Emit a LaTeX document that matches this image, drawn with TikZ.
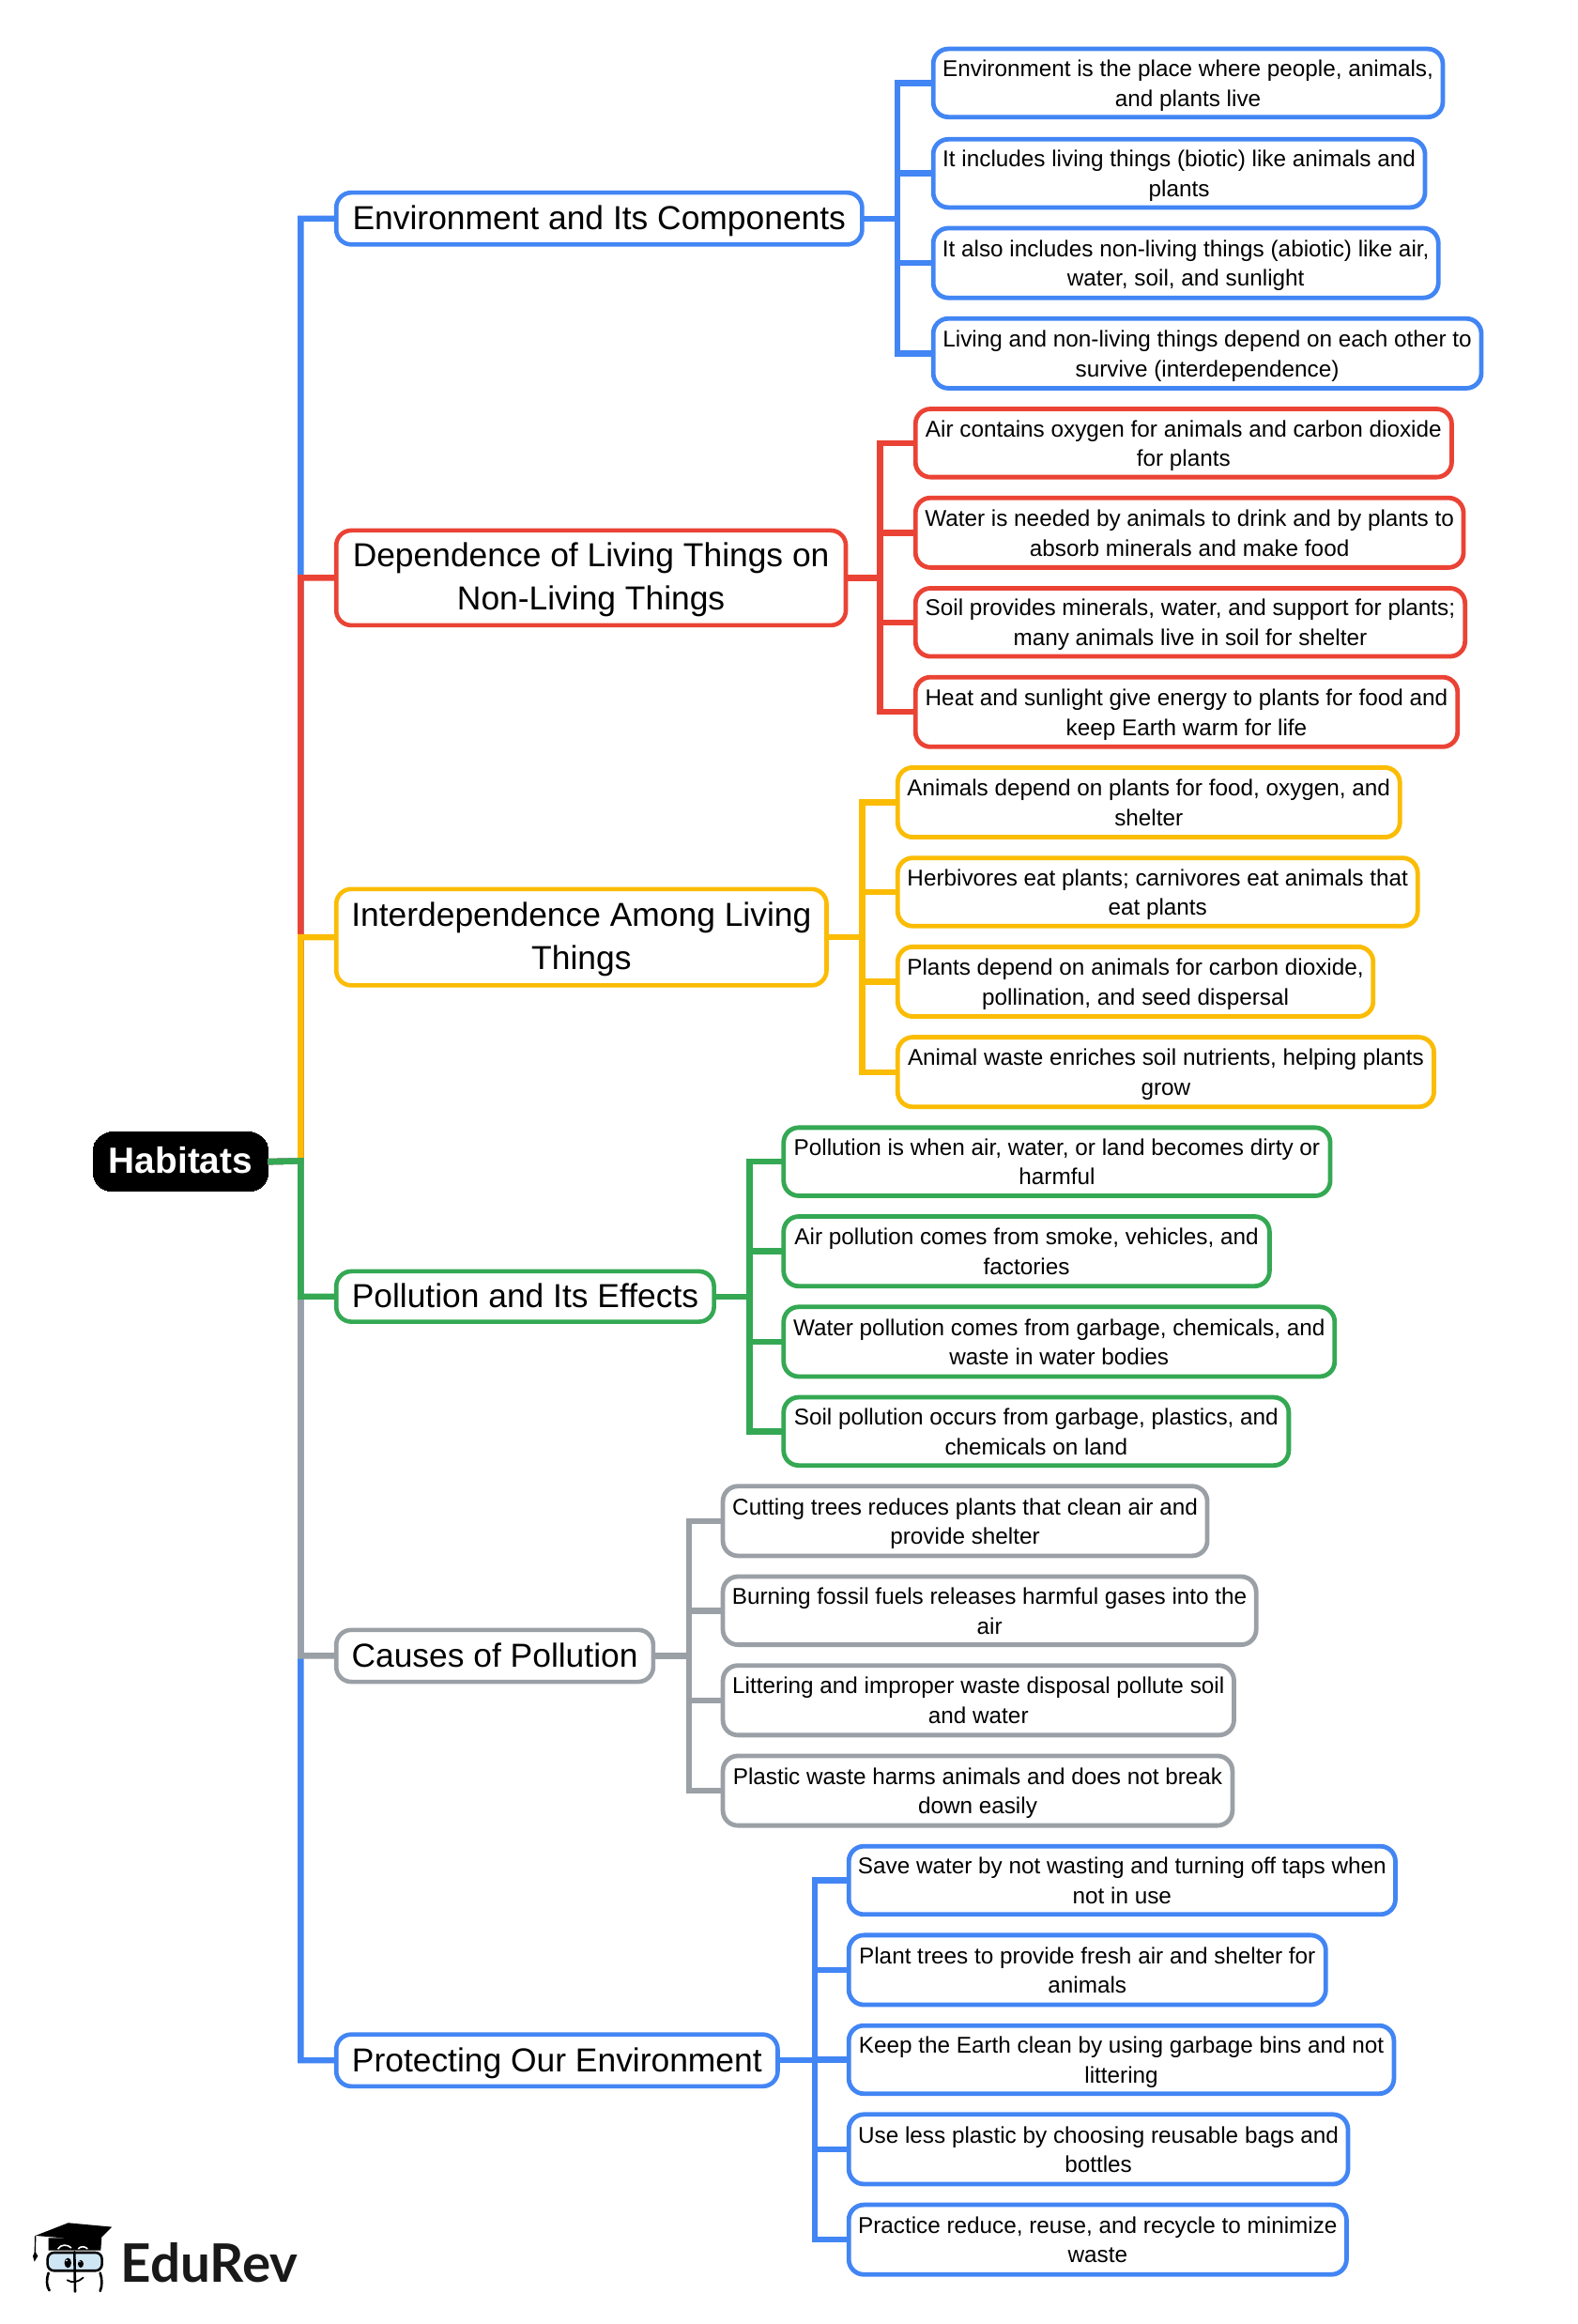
\documentclass[tikz,border=0pt]{standalone}
\usepackage{fontspec}
\setmainfont{Liberation Sans}
\newfontfamily\logofont{Lato}
\definecolor{gblue}{HTML}{4285F4}
\definecolor{gred}{HTML}{EA4335}
\definecolor{gyellow}{HTML}{FBBC04}
\definecolor{ggreen}{HTML}{34A853}
\definecolor{ggrey}{HTML}{9AA0A6}
\definecolor{glass}{HTML}{CFE6F5}
\tikzset{
  anybox/.style={rectangle,rounded corners=16pt,inner sep=0pt,outer sep=0pt,fill=white,text=black},
  leafbox/.style={anybox,line width=4.8pt,font=\fontsize{24.3}{31.6}\selectfont},
  branchbox/.style={anybox,line width=4.6pt,font=\fontsize{35.4}{46}\selectfont},
  rootbox/.style={anybox,fill=black,text=white,draw=black,line width=0pt,rounded corners=20pt,font=\fontsize{38.8}{46}\selectfont\bfseries},
  conn/.style={line width=6.4pt,line join=miter},
  logoline/.style={draw=black,line width=2.6pt,line cap=round}
}
% [text nudge], style, name, left, right, top, bottom, colour, text (coordinates in units of 1.578pt)
\newcommand\placebox[9][-2.7pt]{%
  \node[#2,draw=#8,minimum width={(#5-#4)*1.578pt},minimum height={(#7-#6)*1.578pt}]
    (#3) at ({(#4+#5)/2},{(#6+#7)/2}) {\raisebox{#1}[\height][\depth]{\begin{tabular}{@{}c@{}}#9\end{tabular}}};}
\begin{document}
\begin{tikzpicture}[x=1.578pt,y=-1.578pt]
\useasboundingbox (0,0) rectangle (1065.27,1568.44);
\fill[white] (0,0) rectangle (1065.27,1568.44);

\coordinate (rbus) at (203,783.5);
\coordinate (bus1) at (606,0);
\coordinate (bus2) at (594,0);
\coordinate (bus3) at (582,0);
\coordinate (bus4) at (506,0);
\coordinate (bus5) at (465,0);
\coordinate (bus6) at (550,0);

% root
\node[rootbox,minimum width={118*1.578pt},minimum height={40*1.578pt}] (root) at (122,784) {\raisebox{-3pt}[\height][\depth]{\begin{tabular}{@{}c@{}}Habitats\end{tabular}}};

% branches
\placebox[-3pt]{branchbox}{b1}{227}{582}{130}{165}{gblue}{Environment and Its Components}
\placebox[-1.7pt]{branchbox}{b2}{227}{571}{358}{422}{gred}{Dependence of Living Things on\\Non-Living Things}
\placebox[-1.7pt]{branchbox}{b3}{227}{558}{600}{665}{gyellow}{Interdependence Among Living\\Things}
\placebox[-3pt]{branchbox}{b4}{227}{482}{858}{892}{ggreen}{Pollution and Its Effects}
\placebox[-3pt]{branchbox}{b5}{227}{441}{1100}{1135}{ggrey}{Causes of Pollution}
\placebox[-3pt]{branchbox}{b6}{227}{525}{1373}{1408}{gblue}{Protecting Our Environment}

% leaves
\placebox{leafbox}{l11}{630}{974}{33}{79}{gblue}{Environment is the place where people, animals,\\and plants live}
\placebox{leafbox}{l12}{630}{962}{94}{140}{gblue}{It includes living things (biotic) like animals and\\plants}
\placebox{leafbox}{l13}{630}{971}{154}{201}{gblue}{It also includes non-living things (abiotic) like air,\\water, soil, and sunlight}
\placebox{leafbox}{l14}{630}{1000}{215}{262}{gblue}{Living and non-living things depend on each other to\\survive (interdependence)}

\placebox{leafbox}{l21}{618}{980}{276}{322}{gred}{Air contains oxygen for animals and carbon dioxide\\for plants}
\placebox{leafbox}{l22}{618}{988}{336}{383}{gred}{Water is needed by animals to drink and by plants to\\absorb minerals and make food}
\placebox{leafbox}{l23}{618}{989}{397}{443}{gred}{Soil provides minerals, water, and support for plants;\\many animals live in soil for shelter}
\placebox{leafbox}{l24}{618}{984}{457}{504}{gred}{Heat and sunlight give energy to plants for food and\\keep Earth warm for life}

\placebox{leafbox}{l31}{606}{945}{518}{565}{gyellow}{Animals depend on plants for food, oxygen, and\\shelter}
\placebox{leafbox}{l32}{606}{957}{579}{625}{gyellow}{Herbivores eat plants; carnivores eat animals that\\eat plants}
\placebox{leafbox}{l33}{606}{927}{639}{686}{gyellow}{Plants depend on animals for carbon dioxide,\\pollination, and seed dispersal}
\placebox{leafbox}{l34}{606}{968}{700}{747}{gyellow}{Animal waste enriches soil nutrients, helping plants\\grow}

\placebox{leafbox}{l41}{529}{898}{761}{807}{ggreen}{Pollution is when air, water, or land becomes dirty or\\harmful}
\placebox{leafbox}{l42}{529}{857}{821}{868}{ggreen}{Air pollution comes from smoke, vehicles, and\\factories}
\placebox{leafbox}{l43}{529}{901}{882}{929}{ggreen}{Water pollution comes from garbage, chemicals, and\\waste in water bodies}
\placebox{leafbox}{l44}{529}{870}{943}{989}{ggreen}{Soil pollution occurs from garbage, plastics, and\\chemicals on land}

\placebox{leafbox}{l51}{488}{815}{1003}{1050}{ggrey}{Cutting trees reduces plants that clean air and\\provide shelter}
\placebox{leafbox}{l52}{488}{848}{1064}{1110}{ggrey}{Burning fossil fuels releases harmful gases into the\\air}
\placebox{leafbox}{l53}{488}{833}{1124}{1171}{ggrey}{Littering and improper waste disposal pollute soil\\and water}
\placebox{leafbox}{l54}{488}{832}{1185}{1232}{ggrey}{Plastic waste harms animals and does not break\\down easily}

\placebox{leafbox}{l61}{573}{942}{1246}{1292}{gblue}{Save water by not wasting and turning off taps when\\not in use}
\placebox{leafbox}{l62}{573}{895}{1306}{1353}{gblue}{Plant trees to provide fresh air and shelter for\\animals}
\placebox{leafbox}{l63}{573}{941}{1367}{1413}{gblue}{Keep the Earth clean by using garbage bins and not\\littering}
\placebox{leafbox}{l64}{573}{910}{1427}{1474}{gblue}{Use less plastic by choosing reusable bags and\\bottles}
\placebox{leafbox}{l65}{573}{909}{1488}{1535}{gblue}{Practice reduce, reuse, and recycle to minimize\\waste}

% root connectors: drawn so the nearer branch lies on top
\draw[conn,gblue]   (root.east) -- (rbus) |- (b1.west);
\draw[conn,gred]    (root.east) -- (rbus) |- (b2.west);
\draw[conn,gyellow] (root.east) -- (rbus) |- (b3.west);
\draw[conn,gblue]   (root.east) -- (rbus) |- (b6.west);
\draw[conn,ggrey]   (root.east) -- (rbus) |- (b5.west);
\draw[conn,ggreen]  (root.east) -- (rbus) |- (b4.west);

% leaf connectors
\foreach \c in {l11,l12,l13,l14} \draw[conn,gblue] (b1.east) -- (b1.east -| bus1) |- (\c.west);
\foreach \c in {l21,l22,l23,l24} \draw[conn,gred] (b2.east) -- (b2.east -| bus2) |- (\c.west);
\foreach \c in {l31,l32,l33,l34} \draw[conn,gyellow] (b3.east) -- (b3.east -| bus3) |- (\c.west);
\foreach \c in {l41,l42,l43,l44} \draw[conn,ggreen] (b4.east) -- (b4.east -| bus4) |- (\c.west);
\foreach \c in {l51,l52,l53,l54} \draw[conn,ggrey] (b5.east) -- (b5.east -| bus5) |- (\c.west);
\foreach \c in {l61,l62,l63,l64,l65} \draw[conn,gblue] (b6.east) -- (b6.east -| bus6) |- (\c.west);

% logo
\begin{scope}[shift={(0,1457.5)},x=0.3333pt,y=-0.3333pt]
  \fill[black] (155,250) -- (155,290) -- (322,290) -- (325,250) -- cycle;
  \draw[white,line width=1.6pt] (185,285) .. controls (195,270) and (215,270) .. (228,282);
  \draw[white,line width=1.6pt] (250,285) .. controls (258,276) and (270,276) .. (280,285);
  \fill[black] (113,243) -- (218,202) -- (358,215) -- (293,280) -- (200,250) -- cycle;
  \draw[logoline,line width=1.4pt] (113,245) -- (112,298);
  \fill[black] (112,293) -- (121,308) -- (110,326) -- (105,308) -- cycle;
  \draw[logoline,fill=glass,rounded corners=7pt] (152,297) rectangle (326,355);
  \draw[logoline] (155,362) .. controls (148,380) and (148,405) .. (158,418);
  \draw[logoline] (320,362) .. controls (327,380) and (327,405) .. (320,420);
  \draw[logoline] (238,295) -- (240,422);
  \draw[logoline,line width=1.8pt] (215,385) .. controls (230,395) and (250,392) .. (266,377);
  \fill[black] (217,330) ellipse [x radius=11,y radius=16];
  \fill[black] (258,333) ellipse [x radius=9,y radius=12];
  \fill[white] (213,322) circle [radius=3];
  \fill[white] (255,326) circle [radius=2.5];
  \node[anchor=base west,inner sep=0pt,text=black!90] (logotext) at (386,392)
    {\fontsize{56.5}{60}\logofont\bfseries EduRev};
\end{scope}
\end{tikzpicture}
\end{document}
